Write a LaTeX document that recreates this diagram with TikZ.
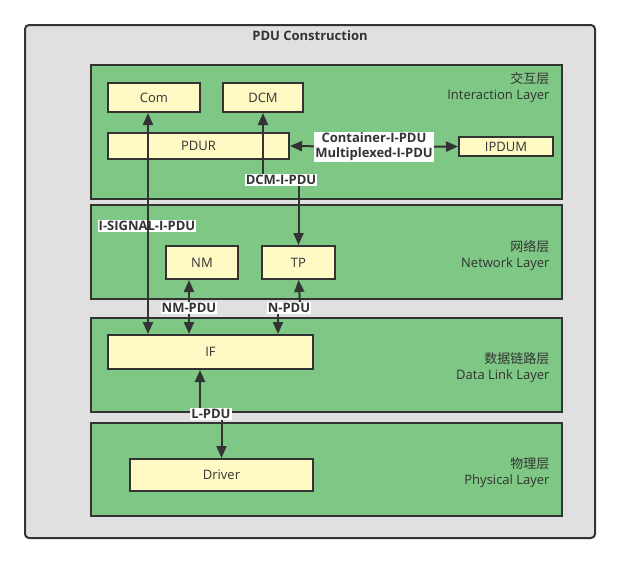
\documentclass[tikz,border=0pt]{standalone}
\usepackage{fontspec}
\setmainfont{Open Sans}
\newfontfamily\cjk{Noto Sans CJK SC}
\usetikzlibrary{arrows.meta}
\definecolor{layergreen}{RGB}{126,199,132}
\definecolor{boxyellow}{RGB}{255,249,196}
\definecolor{framegray}{RGB}{224,224,224}
\definecolor{inkgray}{RGB}{51,51,51}
\begin{document}
\begin{tikzpicture}
    [
        x=1pt, y=-1pt,
        font=\fontsize{13}{15}\selectfont, text=inkgray,
        frame/.style={rectangle, rounded corners=4pt, draw=inkgray, fill=framegray, line width=2pt, minimum width=570pt, minimum height=513pt},
        layer/.style={rectangle, draw=inkgray, fill=layergreen, line width=2pt, minimum width=471pt},
        module/.style={rectangle, draw=inkgray, fill=boxyellow, line width=2pt, inner sep=0pt},
        pdu/.style={fill=white, inner sep=1pt, font=\fontsize{13}{15}\selectfont\bfseries, align=center},
        layername/.style={anchor=east, align=right, font=\fontsize{13}{16}\selectfont},
        arrow/.style={-{Triangle[length=12pt,width=10pt]}, line width=2pt, draw=inkgray}
    ]
    \useasboundingbox (0,0) rectangle (619,563);
    % Frame and layers
    \node[frame] (frame) at (310,281.5) {};
    \node[font=\fontsize{13}{15}\selectfont\bfseries] (title) at (310,36) {PDU Construction};
    \node[layer, minimum height=134pt] (interaction) at (326.5,132) {};
    \node[layer, minimum height=94pt] (network) at (326.5,252) {};
    \node[layer, minimum height=94pt] (datalink) at (326.5,365) {};
    \node[layer, minimum height=93pt] (physical) at (326.5,469.5) {};
    \node[layername] (interactionname) at (553,88) {{\cjk 交互层}\\Interaction Layer};
    \node[layername] (networkname) at (553,256) {{\cjk 网络层}\\Network Layer};
    \node[layername] (datalinkname) at (553,368) {{\cjk 数据链路层}\\Data Link Layer};
    \node[layername] (physicalname) at (553,473) {{\cjk 物理层}\\Physical Layer};

    % Modules
    \node[module, minimum width=92pt, minimum height=29pt] (com) at (154,97.5) {Com};
    \node[module, minimum width=80pt, minimum height=29pt] (dcm) at (263,97.5) {DCM};
    \node[module, minimum width=181pt, minimum height=26pt] (pdur) at (198.5,146) {PDUR};
    \node[module, minimum width=94pt, minimum height=19pt] (ipdum) at (506,146.5) {IPDUM};
    \node[module, minimum width=72pt, minimum height=33pt] (nm) at (202,262.5) {NM};
    \node[module, minimum width=73pt, minimum height=33pt] (tp) at (298.5,262.5) {TP};
    \node[module, minimum width=205pt, minimum height=34pt] (if) at (210.5,352) {IF};
    \node[module, minimum width=183pt, minimum height=32pt] (driver) at (221.5,475) {Driver};

    % PDU labels
    \node[pdu] (multipdu) at (374,147) {Container-I-PDU\\Multiplexed-I-PDU};
    \node[pdu] (dcmpdu) at (281,180) {DCM-I-PDU};
    \node[pdu] (signalpdu) at (147,226) {I-SIGNAL-I-PDU};
    \node[pdu] (nmpdu) at (189,308) {NM-PDU};
    \node[pdu] (npdu) at (289,308) {N-PDU};
    \node[pdu] (lpdu) at (211,414) {L-PDU};

    % Arrows
    \draw[arrow] (multipdu) -- (pdur.east);
    \draw[arrow] (multipdu) -- (ipdum.west);
    \draw[arrow] (dcmpdu.north -| dcm.south) -- (dcm.south);
    \draw[arrow] (dcmpdu.south -| tp.north) -- (tp.north);
    \draw[arrow] (nmpdu.north -| 189,0) -- (nm.south -| 189,0);
    \draw[arrow] (nmpdu.south -| 189,0) -- (if.north -| 189,0);
    \draw[arrow] ([xshift=1.5pt]npdu.north -| tp.south) -- (tp.south);
    \draw[arrow] (npdu.south -| 278,0) -- (if.north -| 278,0);
    \draw[arrow] (lpdu.north -| 200,0) -- (if.south -| 200,0);
    \draw[arrow] (lpdu.south -| driver.north) -- (driver.north);
    \draw[arrow, {Triangle[length=12pt,width=10pt]}-{Triangle[length=12pt,width=10pt]}] (com.south -| 148,0) -- (if.north -| 148,0);
\end{tikzpicture}
\end{document}
